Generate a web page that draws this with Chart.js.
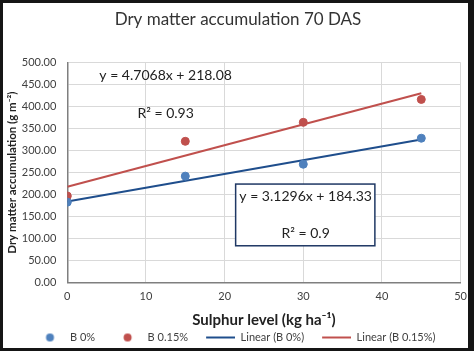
<!DOCTYPE html>
<html>
<head>
<meta charset="utf-8">
<script src="https://cdn.jsdelivr.net/npm/chart.js@4"></script>
<style>
  html, body { margin: 0; padding: 0; background: #fff; }
  #wrap { position: relative; width: 474px; height: 351px; }
  #frame { position: absolute; left: 0; top: 0; width: 474px; height: 351px; box-sizing: border-box;
           border: 3px solid #151515; border-right-width: 6px; pointer-events: none; }
</style>
</head>
<body>
<div id="wrap">
  <canvas id="chart" width="474" height="351"></canvas>
  <div id="frame"></div>
</div>
<script>
// Sulphur level (kg/ha) and dry matter values
const sulphur = [0, 15, 30, 45];
const b0 = [183, 242, 269, 328];
const b015 = [197, 321, 364, 416];

// Trendline endpoints from the equations printed on the chart
const trendX = [0, 45];
const trendB0 = [184.33, 325.16];
const trendB015 = [218.08, 429.89];

const xTicks = [0, 10, 20, 30, 40, 50];

const BLUE = "#4F81BD";
const BLUE_LINE = "#1F4E8C";
const RED = "#C0504D";
const FONT = "Lato, 'Open Sans', sans-serif";

// legend marker: some space in front, then a 29px cell holding a dot or a line
const GAP = 15, CELL = 29;

function pts(xs, ys) {
    return xs.map((x, i) => ({ x: x, y: ys[i] }));
}

function legendMarker(kind, color) {
    let c = document.createElement("canvas");
    c.width = GAP + CELL;
    c.height = 10;
    let g = c.getContext("2d");
    if (kind === "circle") {
        g.fillStyle = color;
        g.beginPath();
        g.arc(GAP + CELL / 2, 5, 4, 0, Math.PI * 2);
        g.fill();
    } else {
        g.strokeStyle = color;
        g.lineWidth = 2;
        g.beginPath();
        g.moveTo(GAP, 5);
        g.lineTo(GAP + CELL, 5);
        g.stroke();
    }
    return c;
}

// the blank in front of the first marker pushes the legend right, pull it back
const legendShift = {
    id: "legendShift",
    afterLayout(chart) {
        chart.legend.left -= 10;
        chart.legend.right -= 10;
    }
};

// Equation labels and the boxed one, placed in data coordinates
const notes = {
    id: "notes",
    afterDatasetsDraw(chart) {
        let ctx = chart.ctx;
        let sx = chart.scales.x;
        let sy = chart.scales.y;
        ctx.save();
        ctx.font = "14px " + FONT;
        ctx.fillStyle = "#222";
        ctx.textAlign = "center";
        ctx.textBaseline = "middle";
        ctx.fillText("y = 4.7068x + 218.08", sx.getPixelForValue(12.5), sy.getPixelForValue(470));
        ctx.fillText("R\u00B2 = 0.93", sx.getPixelForValue(12.5), sy.getPixelForValue(385));

        let left = sx.getPixelForValue(21.4), right = sx.getPixelForValue(39.1);
        let top = sy.getPixelForValue(224), bottom = sy.getPixelForValue(84);
        ctx.fillStyle = "#fff";
        ctx.fillRect(left, top, right - left, bottom - top);
        ctx.strokeStyle = "#1F3864";
        ctx.lineWidth = 1.5;
        ctx.strokeRect(left, top, right - left, bottom - top);
        ctx.fillStyle = "#222";
        ctx.fillText("y = 3.1296x + 184.33", sx.getPixelForValue(30.3), sy.getPixelForValue(195));
        ctx.fillText("R\u00B2 = 0.9", sx.getPixelForValue(30.3), sy.getPixelForValue(111));
        ctx.restore();
    }
};

new Chart(document.getElementById("chart"), {
    type: "scatter",
    data: {
        datasets: [
            { label: "B 0%", data: pts(sulphur, b0), backgroundColor: BLUE, borderColor: BLUE,
              pointRadius: 4, pointStyle: "circle", order: 1 },
            { label: "B 0.15%", data: pts(sulphur, b015), backgroundColor: RED, borderColor: RED,
              pointRadius: 4, pointStyle: "circle", order: 1 },
            { label: "Linear (B 0%)", type: "line", data: pts(trendX, trendB0), borderColor: BLUE_LINE,
              backgroundColor: BLUE_LINE, borderWidth: 2, pointRadius: 0, pointStyle: "line", order: 2 },
            { label: "Linear (B 0.15%)", type: "line", data: pts(trendX, trendB015), borderColor: RED,
              backgroundColor: RED, borderWidth: 2, pointRadius: 0, pointStyle: "line", order: 2 }
        ]
    },
    options: {
        responsive: false,
        animation: false,
        layout: { padding: { left: 5, right: 3, top: 4, bottom: -2 } },
        plugins: {
            title: {
                display: true,
                text: "Dry matter accumulation 70 DAS",
                color: "#333",
                font: { family: FONT, size: 17, weight: "normal" },
                padding: { top: 5, bottom: 33 }
            },
            legend: {
                position: "bottom",
                labels: {
                    usePointStyle: true,
                    pointStyleWidth: GAP + CELL,
                    boxHeight: 6,
                    color: "#404040",
                    font: { family: FONT, size: 11 },
                    padding: 3,
                    generateLabels: chart => {
                        let items = Chart.defaults.plugins.legend.labels.generateLabels(chart);
                        items.forEach(it => {
                            let color = it.pointStyle === "circle" ? it.fillStyle : it.strokeStyle;
                            it.pointStyle = legendMarker(it.pointStyle, color);
                        });
                        return items;
                    }
                }
            },
            tooltip: { enabled: false }
        },
        scales: {
            x: {
                type: "linear",
                min: 0, max: 50,
                afterBuildTicks: axis => { axis.ticks = xTicks.map(v => ({ value: v })); },
                grid: { color: "#D9D9D9", drawTicks: false },
                border: { color: "#7F7F7F", width: 1.5 },
                ticks: { color: "#404040", font: { family: FONT, size: 11 }, padding: 7 },
                title: { display: true, text: "Sulphur level (kg ha\u207B\u00B9)", color: "#222",
                         font: { family: FONT, size: 15, weight: "bold" }, padding: { top: 1, bottom: 0 } }
            },
            y: {
                min: 0, max: 500,
                afterFit: axis => { axis.width -= 10; },
                ticks: { stepSize: 50, color: "#404040", font: { family: FONT, size: 11 }, padding: 11,
                         callback: v => v.toFixed(2) },
                grid: { color: "#D9D9D9", drawTicks: false },
                border: { color: "#7F7F7F", width: 1.5 },
                title: { display: true, text: "Dry matter accumulation (g m\u207B\u00B2)", color: "#222",
                         font: { family: FONT, size: 11.5, weight: "bold" }, padding: { top: 0, bottom: 2 } }
            }
        }
    },
    plugins: [notes, legendShift]
});
</script>
</body>
</html>
